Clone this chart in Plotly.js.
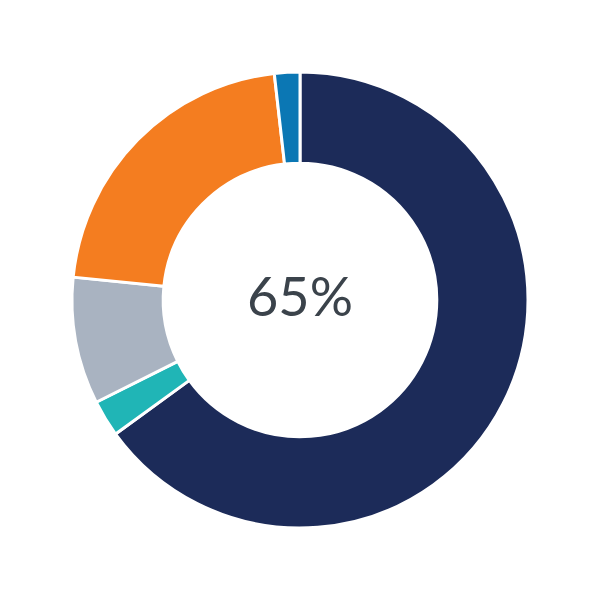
<!DOCTYPE html>
<html>
<head>
<meta charset="utf-8">
<script src="https://cdn.plot.ly/plotly-3.0.1.min.js"></script>
<style>html,body{margin:0;padding:0;background:#fff}#chart{width:600px;height:600px}</style>
</head>
<body>
<div id="chart"></div>
<script>
const labels = ["Navy", "Teal", "Gray", "Orange", "Blue"];
const values = [65, 2.6, 9.0, 21.6, 1.8];
const colors = ["#1c2b59", "#20b5b6", "#a9b3c1", "#f47d20", "#0b77b4"];
const centerText = "65%";

Plotly.newPlot("chart", [{
  type: "pie",
  labels: labels,
  values: values,
  hole: 0.6,
  sort: false,
  direction: "clockwise",
  rotation: 0,
  textinfo: "none",
  hoverinfo: "none",
  marker: {colors: colors, line: {color: "#ffffff", width: 3}},
  domain: {x: [0.12, 0.88], y: [0.12, 0.88]}
}], {
  width: 600, height: 600,
  margin: {l: 0, r: 0, t: 0, b: 0},
  showlegend: false,
  paper_bgcolor: "#ffffff",
  annotations: [{
    text: centerText, x: 0.5, y: 0.5, xref: "paper", yref: "paper", yshift: 5,
    showarrow: false, font: {family: "Lato", size: 54, color: "#3b434b"}
  }]
}, {displayModeBar: false, staticPlot: true});
</script>
</body>
</html>
